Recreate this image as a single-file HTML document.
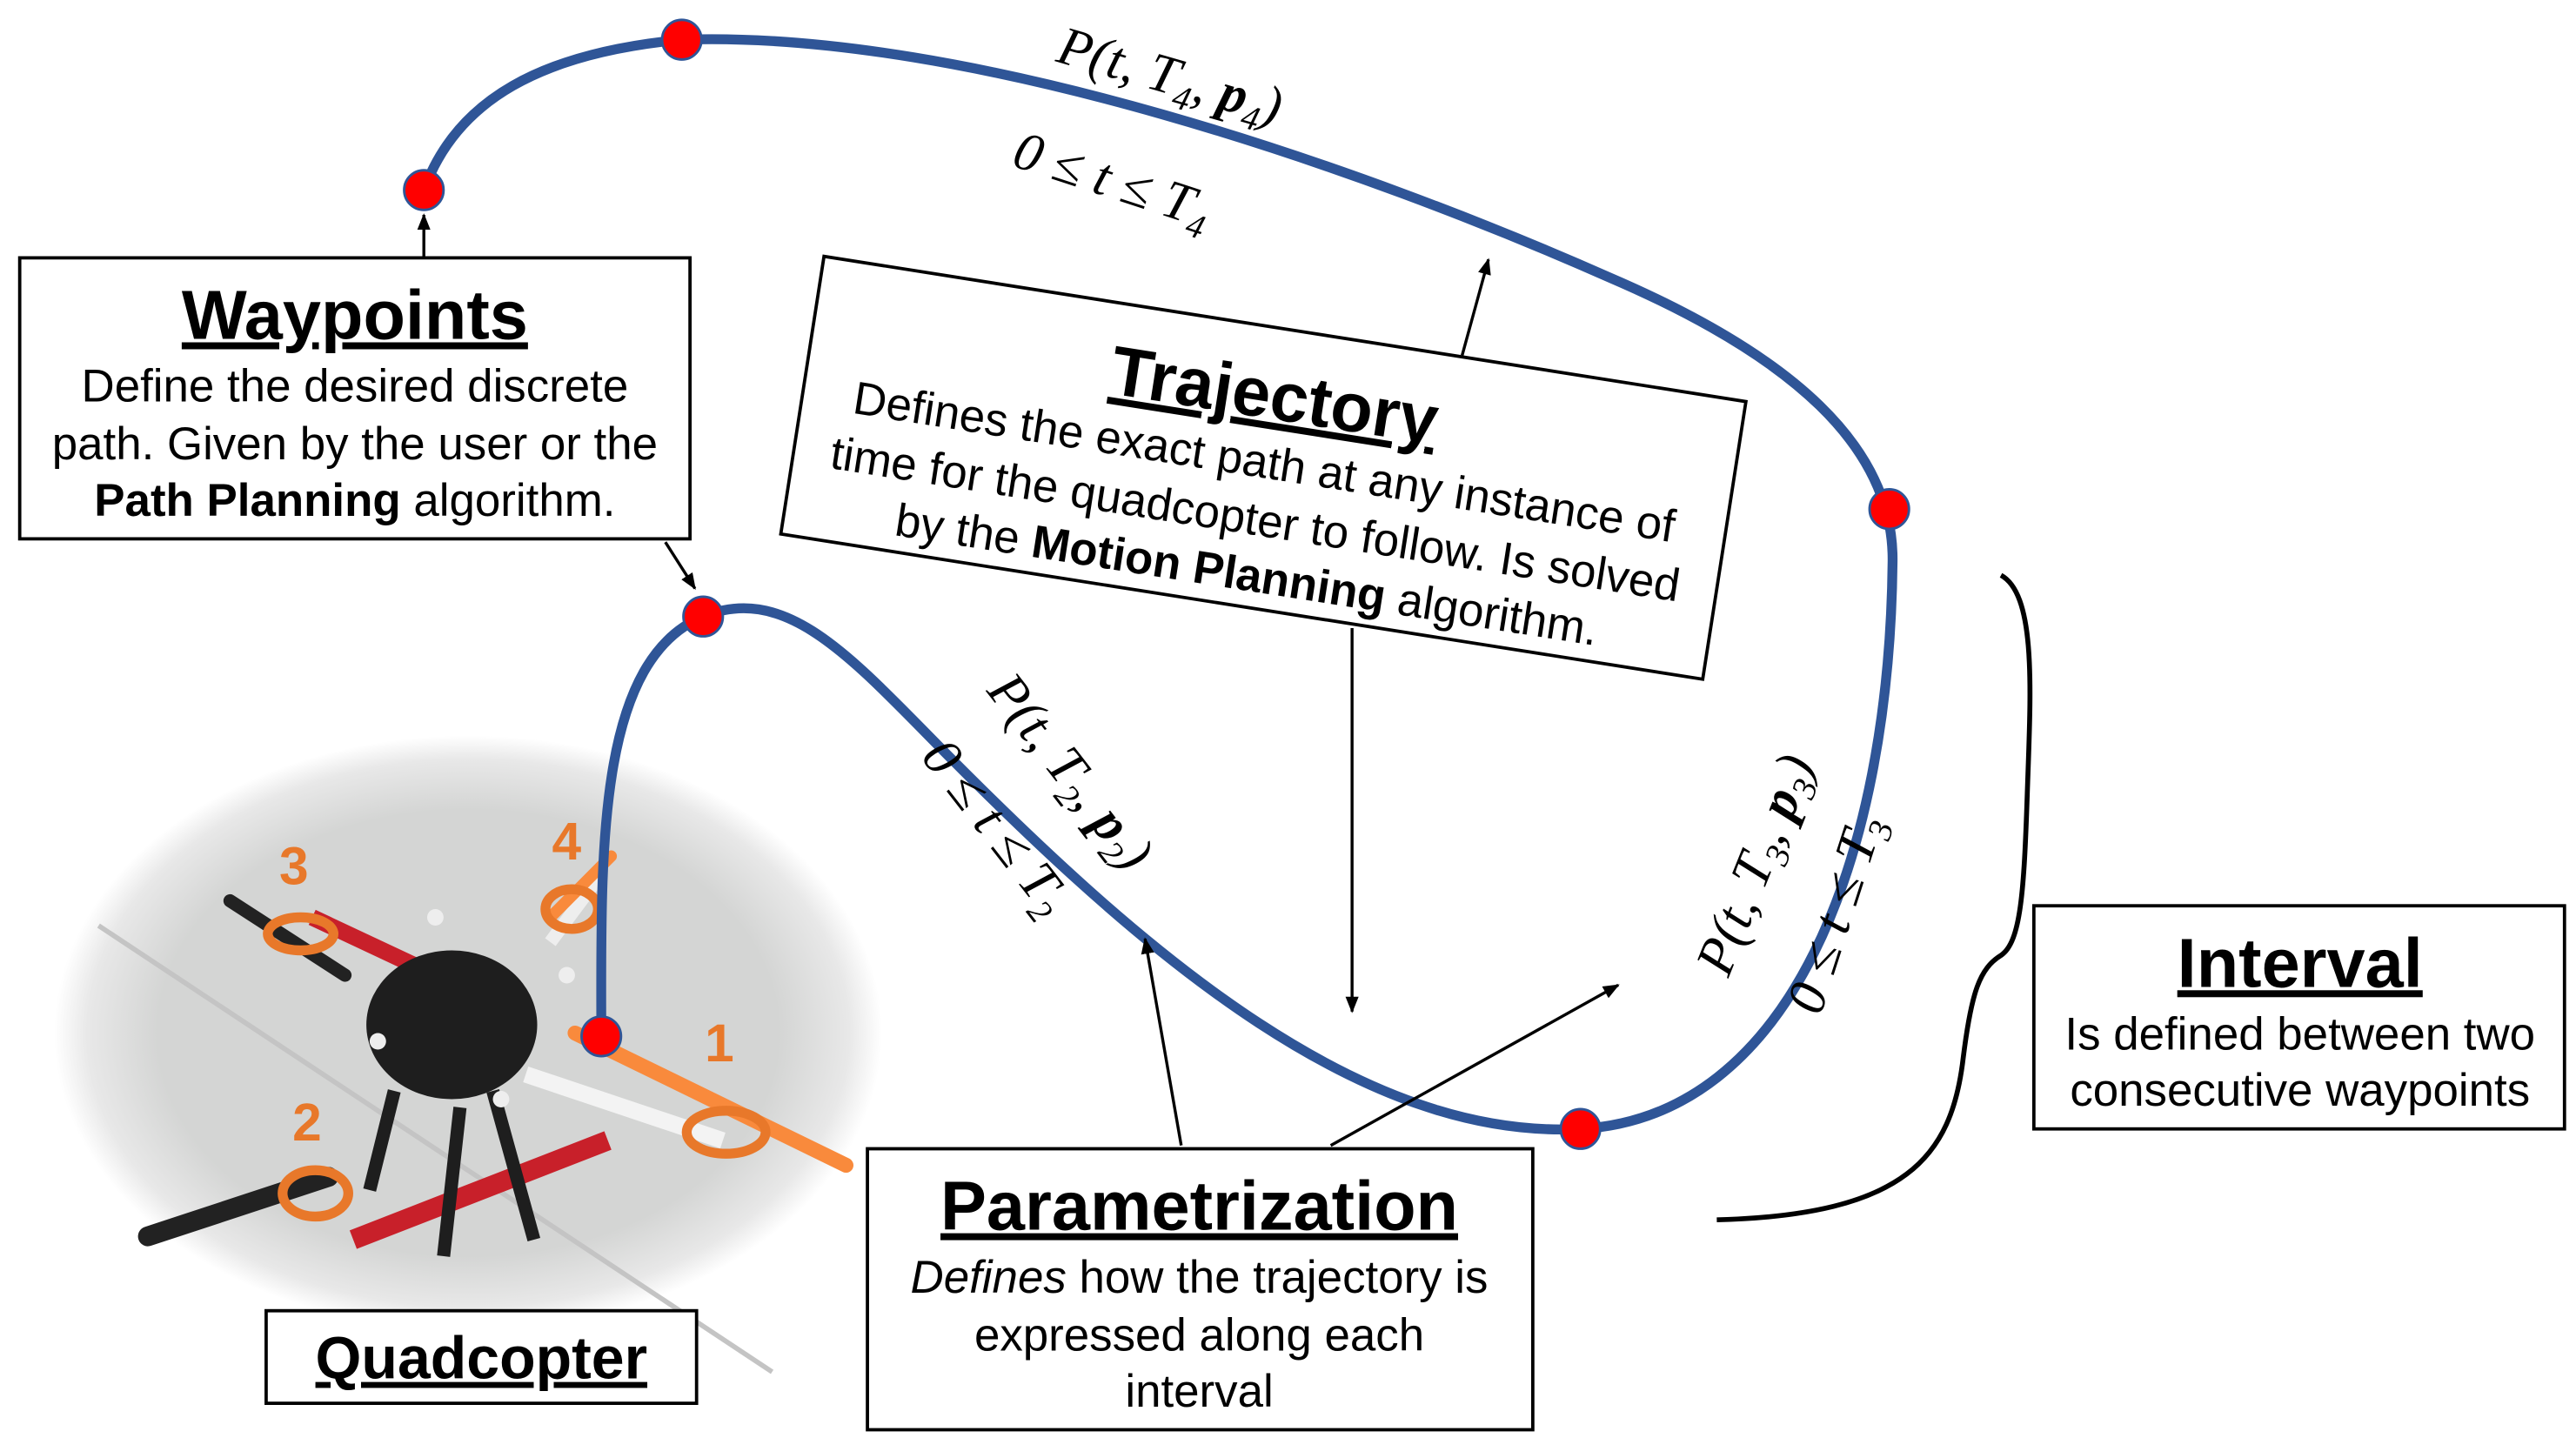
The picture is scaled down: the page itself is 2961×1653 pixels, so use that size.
<!DOCTYPE html>
<html><head><meta charset="utf-8"><style>
html,body{margin:0;padding:0;background:#fff;width:2961px;height:1653px;overflow:hidden}
svg{display:block}
.s{font-family:"Liberation Sans",Arial,sans-serif}
.m{font-family:"Liberation Serif",serif;font-style:italic;font-size:33px}
</style></head><body>
<svg width="2961" height="1653" viewBox="0 0 1568 870" preserveAspectRatio="none" xmlns="http://www.w3.org/2000/svg">
<defs>
<radialGradient id="g" cx="0.5" cy="0.5" r="0.5">
<stop offset="0.75" stop-color="#d4d5d4"/><stop offset="0.92" stop-color="#e8e8e8"/><stop offset="1" stop-color="#fff"/>
</radialGradient>
<marker id="a" markerWidth="10" markerHeight="10" refX="9" refY="5" orient="auto" markerUnits="userSpaceOnUse"><path d="M0,1 L10,5 L0,9 z" fill="#000"/></marker>
</defs>
<ellipse cx="285" cy="625" rx="252" ry="180" fill="url(#g)"/>
<line x1="60" y1="560" x2="470" y2="830" stroke="#c4c4c4" stroke-width="3"/>
<path d="M370,690 L215,750" stroke="#c8202a" stroke-width="12"/>
<path d="M265,590 L190,555" stroke="#c8202a" stroke-width="10"/>
<path d="M335,570 L365,530" stroke="#eee" stroke-width="8"/>
<path d="M320,650 L440,690" stroke="#f3f3f3" stroke-width="10"/>
<path d="M90,748 L200,712" stroke="#222" stroke-width="12" stroke-linecap="round"/>
<path d="M140,545 L210,590" stroke="#222" stroke-width="8" stroke-linecap="round"/>
<path d="M350,625 L515,705" stroke="#f98a3c" stroke-width="9" stroke-linecap="round"/>
<path d="M335,555 L372,518" stroke="#f98a3c" stroke-width="7" stroke-linecap="round"/>
<ellipse cx="275" cy="620" rx="52" ry="45" fill="#1e1e1e"/>
<path d="M240,660 L225,720 M300,660 L325,750 M280,670 L270,760" stroke="#1e1e1e" stroke-width="8"/>
<circle cx="230" cy="630" r="5" fill="#eee"/><circle cx="265" cy="555" r="5" fill="#eee"/><circle cx="345" cy="590" r="5" fill="#eee"/><circle cx="305" cy="665" r="5" fill="#eee"/>
<g fill="none" stroke="#e8782a" stroke-width="6">
<ellipse cx="183" cy="565" rx="20" ry="10"/><ellipse cx="348" cy="550" rx="16" ry="12"/><ellipse cx="442" cy="685" rx="24" ry="13"/><ellipse cx="192" cy="722" rx="20" ry="14"/>
</g>
<g class="s" font-size="32" fill="#e8782a" font-weight="bold">
<text x="170" y="535">3</text><text x="336" y="520">4</text><text x="429" y="642">1</text><text x="178" y="690">2</text>
</g>
<path d="M366,627 C366,520 362,400 428,373 C480,352 520,400 580,460 C700,580 830,690 962,683 C1090,676 1150,520 1152,340 C1153,270 1090,215 980,168 C830,102 590,18 415,24 C330,32 278,60 258,115" fill="none" stroke="#2f5597" stroke-width="6"/>
<g fill="#f00" stroke="#2f5597" stroke-width="1.5">
<circle cx="258" cy="115" r="12"/><circle cx="415" cy="24" r="12"/><circle cx="1150" cy="308" r="12"/><circle cx="428" cy="373" r="12"/><circle cx="366" cy="627" r="12"/><circle cx="962" cy="683" r="12"/>
</g>
<g class="m">
<text transform="translate(642,37) rotate(16)">P(t, T<tspan font-size="21" dy="7">4</tspan><tspan dy="-7">, </tspan><tspan font-weight="bold">p</tspan><tspan font-size="21" dy="7">4</tspan><tspan dy="-7">)</tspan></text>
<text transform="translate(615,100) rotate(18)">0 ≤  t ≤ T<tspan font-size="21" dy="7">4</tspan></text>
<text transform="translate(600,418) rotate(52)">P(t, T<tspan font-size="21" dy="7">2</tspan><tspan dy="-7">, </tspan><tspan font-weight="bold">p</tspan><tspan font-size="21" dy="7">2</tspan><tspan dy="-7">)</tspan></text>
<text transform="translate(560,458) rotate(52)">0 ≤  t ≤ T<tspan font-size="21" dy="7">2</tspan></text>
<text transform="translate(1052,592) rotate(-68)">P(t, T<tspan font-size="21" dy="7">3</tspan><tspan dy="-7">, </tspan><tspan font-weight="bold">p</tspan><tspan font-size="21" dy="7">3</tspan><tspan dy="-7">)</tspan></text>
<text transform="translate(1108,615) rotate(-72)">0 ≤  t ≤ T<tspan font-size="21" dy="7">3</tspan></text>
</g>
<g stroke="#000" stroke-width="1.8" marker-end="url(#a)">
<line x1="258" y1="155" x2="258" y2="130"/>
<line x1="405" y1="328" x2="423" y2="356"/>
<line x1="890" y1="215" x2="906" y2="157"/>
<line x1="823" y1="380" x2="823" y2="612"/>
<line x1="719" y1="693" x2="697" y2="568"/>
<line x1="810" y1="693" x2="985" y2="596"/>
</g>
<path d="M1218,348 C1240,360 1236,420 1234,480 C1232,540 1230,570 1218,578 C1205,586 1200,600 1195,640 C1188,700 1160,735 1045,738" fill="none" stroke="#000" stroke-width="3"/>
<rect x="12" y="156" width="408" height="170" fill="#fff" stroke="#000" stroke-width="2"/>
<g class="s" text-anchor="middle">
<text x="216" y="205" font-size="42" font-weight="bold" text-decoration="underline">Waypoints</text>
<text x="216" y="243" font-size="28">Define the desired discrete</text>
<text x="216" y="278" font-size="28">path. Given by the user or the</text>
<text x="216" y="312" font-size="28"><tspan font-weight="bold">Path Planning</tspan> algorithm.</text>
</g>
<g transform="translate(769,283) rotate(8.9)">
<rect x="-284" y="-85" width="568" height="170" fill="#fff" stroke="#000" stroke-width="2"/>
<g class="s" text-anchor="middle">
<text x="0" y="-30" font-size="42" font-weight="bold" text-decoration="underline">Trajectory</text>
<text x="0" y="6" font-size="28">Defines the exact path at any instance of</text>
<text x="0" y="41" font-size="28">time for the quadcopter to follow. Is solved</text>
<text x="0" y="75" font-size="28">by the <tspan font-weight="bold">Motion Planning</tspan> algorithm.</text>
</g></g>
<rect x="1238" y="548" width="323" height="135" fill="#fff" stroke="#000" stroke-width="2"/>
<g class="s" text-anchor="middle">
<text x="1400" y="597" font-size="42" font-weight="bold" text-decoration="underline">Interval</text>
<text x="1400" y="635" font-size="28">Is defined between two</text>
<text x="1400" y="669" font-size="28">consecutive waypoints</text>
</g>
<rect x="528" y="695" width="405" height="170" fill="#fff" stroke="#000" stroke-width="2"/>
<g class="s" text-anchor="middle">
<text x="730" y="744" font-size="42" font-weight="bold" text-decoration="underline">Parametrization</text>
<text x="730" y="782" font-size="28"><tspan font-style="italic">Defines</tspan> how the trajectory is</text>
<text x="730" y="817" font-size="28">expressed along each</text>
<text x="730" y="851" font-size="28">interval</text>
</g>
<rect x="162" y="793" width="262" height="56" fill="#fff" stroke="#000" stroke-width="2"/>
<text class="s" x="293" y="834" font-size="36" font-weight="bold" text-anchor="middle" text-decoration="underline">Quadcopter</text>
</svg>
</body></html>
